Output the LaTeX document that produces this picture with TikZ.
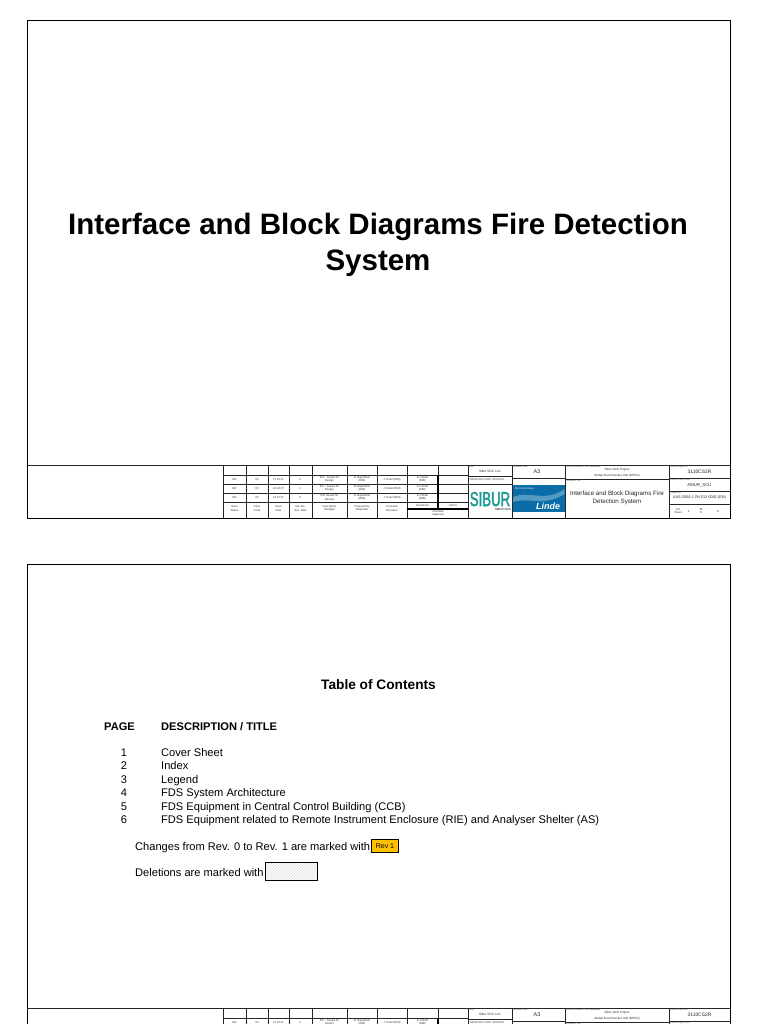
\documentclass[tikz,border=0pt]{standalone}
\usepackage{fontspec}
\setmainfont{Liberation Sans}
\newfontfamily\siburfont[FakeBold=2.5]{Liberation Sans}
\usetikzlibrary{patterns}
\definecolor{sibur}{HTML}{1E9A94}
\definecolor{lindeblue}{HTML}{0B6DA8}
\definecolor{revyellow}{HTML}{FFC000}
\tikzset{
  sheet/.style={draw=black,line width=1pt,fill=white},
  grid/.style={draw=black!85,line width=0.9pt},
  tiny/.style={font=\fontsize{2.8}{3.2}\selectfont,align=center,text=black!80,inner sep=0pt},
  lab/.style={font=\fontsize{2}{2.2}\selectfont,anchor=north west,inner sep=0.3pt,text=black!70},
  val/.style={font=\fontsize{3.6}{4}\selectfont,align=center,inner sep=0pt,text=black!85},
  toc/.style={font=\fontsize{11.1}{13}\selectfont,anchor=base west,inner sep=0pt},
  tochead/.style={font=\bfseries\fontsize{11.1}{13}\selectfont,inner sep=0pt},
}
\newcommand{\titleblock}[1]{%
\begin{scope}[yshift=-#1pt]
  \draw[grid] (27,465) -- (730,465);
  \foreach \x in {223,246,268,289,312,347,377,407,468,512,565,669}
    \draw[grid] (\x,465) -- (\x,518);
  \draw[grid] (438,465) -- (438,509);
  \foreach \y in {475,484,493,502} \draw[grid] (223,\y) -- (468,\y);
  \draw[line width=1.2pt] (407,509) -- (468,509);
  \draw[line width=1.2pt] (438,475) -- (438,509);
  \draw[grid] (468,476) -- (512,476) (468,484) -- (512,484);
  \draw[grid] (512,478) -- (565,478) (565,479) -- (669,479);
  \foreach \y in {478,491,504} \draw[grid] (669,\y) -- (730,\y);
  % revision rows
  \foreach \y/\d/\r/\t/\p/\c in {
    479.5/27.10.07/2/{IFC - Issued for\\Design}/{R. Rajendran\\(EMI)}/{K.J.Shah\\(EMI)},
    488.5/24.10.07/1/{IFC - Issued for\\Design}/{R. Rajendran\\(EMI)}/{K.J.Shah\\(EMI)},
    497.5/10.07.07/0/{IFR Issued for\\Review}/{R. Rajendran\\(EMI)}/{K.J.Shah\\(EMI)}}{
    \node[tiny] at (234.5,\y) {IFR};
    \node[tiny] at (257,\y) {00};
    \node[tiny] at (278.5,\y) {\d};
    \node[tiny] at (300.5,\y) {\r};
    \node[tiny] at (329.5,\y) {\t};
    \node[tiny] at (362,\y) {\p};
    \node[tiny] at (392,\y) {J. Patel (EMI)};
    \node[tiny] at (422.5,\y) {\c};
  }
  \node[tiny] at (234.5,508.5) {Issue\\Status};
  \node[tiny] at (257,508.5) {Issue\\Code};
  \node[tiny] at (278.5,508.5) {Issue\\Date};
  \node[tiny] at (300.5,508.5) {Rev.No.\\Rev. Date};
  \node[tiny] at (329.5,508.5) {Description\\Changes};
  \node[tiny] at (362,508.5) {Prepared by\\Originator};
  \node[tiny] at (392,508.5) {Checked\\Reviewer};
  \node[tiny] at (422.5,505.5) {Contractor};
  \node[tiny] at (453,505.5) {Client};
  \node[tiny] at (438,513.5) {Checked\\Approval};
  % company
  \node[lab] at (468.5,465.3) {Client};
  \node[val,font=\fontsize{3.2}{3.5}\selectfont] at (490,471) {Sibur SCC LLC};
  \node[lab,font=\fontsize{2.8}{3}\selectfont] at (469,477.8) {SIBUR-MOLAND HOLDING};
  \node[font=\siburfont\fontsize{20}{20}\selectfont,text=sibur,inner sep=0pt,xscale=.66,anchor=base] at (490,506) {SIBUR};
  \node[font=\bfseries\fontsize{3}{3}\selectfont,text=black!70,inner sep=0pt] at (503,509.5) {AMUR GCC};
  % format
  \node[lab] at (512.5,465.3) {Document Scale};
  \node[val,font=\fontsize{5.5}{6}\selectfont] at (537,471.5) {A3};
  \fill[lindeblue] (513,485) rectangle (564.5,511.5);
  \fill[lindeblue!70!white] (513,497) .. controls (530,490) and (545,503) .. (564.5,489)
     -- (564.5,494) .. controls (545,507) and (530,497) .. (513,502) -- cycle;
  \node[font=\fontsize{2.6}{3}\selectfont,text=white,anchor=west,inner sep=0pt] at (515,488.5) {the Linde Group};
  \node[font=\itshape\bfseries\fontsize{9}{9}\selectfont,text=white,inner sep=0pt] at (548,506) {Linde};
  % project
  \node[lab] at (565.5,465.3) {General Contractor / Plant Designation};
  \node[val,font=\fontsize{3}{3.5}\selectfont] at (617,469.5) {Sibur GCC Project};
  \node[val,font=\fontsize{3}{3.5}\selectfont] at (617,476) {Global Fund Cracker Unit (MTHU)};
  \node[lab] at (565.5,479.4) {Contractor / Title};
  \node[font=\fontsize{6.2}{8}\selectfont,align=center,inner sep=0pt,text=black!85] at (617,498) {Interface and Block Diagrams Fire\\Detection System};
  % numbers
  \node[lab] at (669.5,465.3) {Contract Project No.};
  \node[val,font=\fontsize{4.9}{5.5}\selectfont] at (699.5,472) {3110CS2R};
  \node[lab] at (669.5,478.4) {Contract Project Code};
  \node[val,font=\fontsize{4.3}{5}\selectfont] at (699.5,485) {AMUR\_SCU};
  \node[lab] at (669.5,491.4) {Contract No.};
  \node[val,font=\fontsize{3.8}{4.5}\selectfont] at (699.5,498) {AAS-2000-J-ZH 012-0001 (EN)};
  \node[tiny] at (678,511) {Act\\Sheet};
  \node[val,font=\fontsize{3}{3.5}\selectfont] at (689,511) {1};
  \node[val,font=\fontsize{3}{3.5}\selectfont] at (701,511) {St\\6};
  \node[val,font=\fontsize{3}{3.5}\selectfont] at (718,511) {6};
\end{scope}}
\begin{document}
\begin{tikzpicture}[x=1pt,y=-1pt]
\useasboundingbox (0,0) rectangle (768,1024);
\clip (0,0) rectangle (768,1024);
\fill[white] (0,0) rectangle (768,1024);
% sheet 1
\draw[sheet] (27,21) rectangle (730,518);
\node[font=\bfseries\fontsize{29.5}{36}\selectfont,align=center,inner sep=0pt] (title) at (378,245)
  {Interface and Block Diagrams Fire Detection\\System};
\titleblock{0}
% sheet 2
\draw[sheet] (27,564) rectangle (730,1061);
\titleblock{543}
\node[font=\bfseries\fontsize{13.7}{16}\selectfont,inner sep=0pt,anchor=base] (toctitle) at (378.5,689) {Table of Contents};
\node[tochead,anchor=base] (pagehead) at (119.5,730) {PAGE};
\node[tochead,anchor=base west] (deschead) at (161,730) {DESCRIPTION / TITLE};
\foreach \n/\y/\t in {1/756/Cover Sheet,2/769.7/Index,3/783.2/Legend,4/796.5/FDS System Architecture,
   5/810/FDS Equipment in Central Control Building (CCB),
   6/823/FDS Equipment related to Remote Instrument Enclosure (RIE) and Analyser Shelter (AS)}{
  \node[toc,anchor=base] (n\n) at (124,\y) {\n};
  \node[toc] (t\n) at (161,\y) {\t};
}
\node[toc] (chg) at (135,850) {Changes from Rev. 0 to Rev. 1 are marked with};
\node[draw=black,line width=0.8pt,fill=revyellow,font=\fontsize{7}{8}\selectfont,minimum width=27pt,minimum height=13.5pt,inner sep=0pt] (rev) at (385,846) {Rev 1};
\node[toc] (del) at (135,876) {Deletions are marked with};
\node[draw=black,line width=0.8pt,pattern=north east lines,pattern color=black!14,minimum width=52pt,minimum height=18pt,inner sep=0pt] (delbox) at (291.5,871.5) {};
\end{tikzpicture}
\end{document}
